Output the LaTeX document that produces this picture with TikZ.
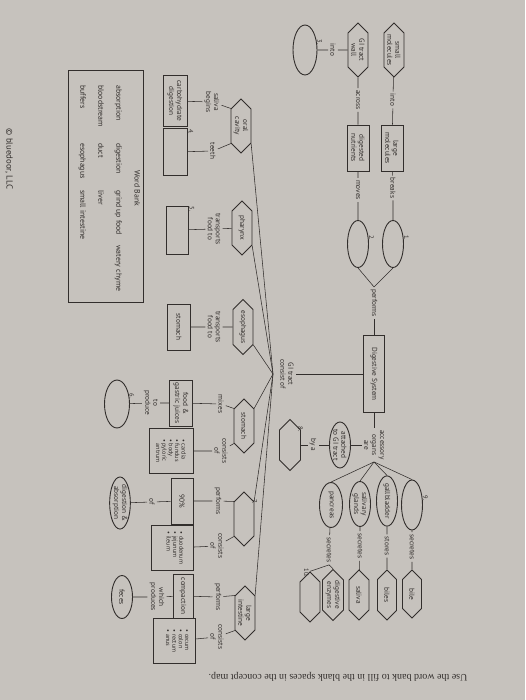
\documentclass[tikz,border=0pt]{standalone}
\usepackage{fontspec}
\setmainfont{PT Sans}
\newfontfamily\headfont{Liberation Serif}
\usetikzlibrary{shapes.geometric,shapes.symbols}

\definecolor{paper}{RGB}{198,194,189}
\definecolor{ink}{RGB}{50,46,44}

\tikzset{
    every node/.style={font=\fontsize{7.3}{8}\selectfont, text=ink},
    concept/.style={draw=ink, line width=0.9pt, align=center, inner sep=1pt},
    hexa/.style={concept, signal, signal to=east and west, minimum width=54pt, minimum height=20pt},
    oval/.style={concept, ellipse, inner sep=0pt, minimum width=47pt, minimum height=21pt},
    box/.style={concept, rectangle, minimum width=46pt, minimum height=22pt},
    listbox/.style={box, align=left, minimum width=45pt, minimum height=42pt, font=\fontsize{6.2}{6.4}\selectfont},
    link/.style={align=center, inner sep=2pt},
    num/.style={font=\fontsize{6.5}{7}\selectfont, inner sep=0.8pt},
    wire/.style={draw=ink, line width=0.55pt}
}

\begin{document}
\begin{tikzpicture}[x=1pt, y=1pt]
    \fill[paper] (0,0) rectangle (525,-700);
    \useasboundingbox (0,0) rectangle (525,-700);
    \begin{scope}[rotate=-90, transform shape]
    % what the system performs
    \node[hexa] (smallmol) at (50,394) {small\\molecules};
    \node[link] (into1) at (100,393) {into};
    \node[box] (largemol) at (148,392) {large\\molecules};
    \node[link] (breaks) at (188,393) {breaks};
    \node[oval, label={[num]135:1.}] (blank1) at (244,393) {};
    \node[hexa] (gitwall) at (50,358) {GI tract\\wall};
    \node[link] (across) at (100,358) {across};
    \node[box] (dignut) at (148,358) {digested\\nutrients};
    \node[link] (moves) at (190,358) {moves};
    \node[oval, label={[num]135:2.}] (blank2) at (244,358) {};
    \node[link] (into2) at (50,333) {into};
    \node[oval, minimum width=50pt, minimum height=24pt, label={[num]135:3.}] (blank3) at (50,305) {};
    \node[link] (performs) at (303,374) {performs};
    \node[box, minimum width=77pt, minimum height=21pt] (digsys) at (374,374) {Digestive System};
    \node[link] (gitract) at (374,287) {GI tract\\consist of};
    \coordinate (hub) at (374,273);

    % GI tract
    \node[hexa] (oral) at (126,241) {oral\\cavity};
    \node[link] (saliva) at (102,212) {saliva\\begins};
    \node[box, minimum width=51pt, minimum height=24pt] (carbo) at (101,175) {carbohydrate\\digestion};
    \node[link] (teeth) at (151,213) {teeth};
    \node[box, minimum width=47pt, minimum height=24pt, label={[num, anchor=south west]north west:4.}] (blank4) at (152,175) {};
    \node[hexa] (pharynx) at (228,242) {pharynx};
    \node[link] (transp1) at (229,214) {transports\\food to};
    \node[box, minimum width=48pt, label={[num, anchor=south west]north west:5.}] (blank5) at (230,177) {};
    \node[hexa] (esoph) at (327,243) {esophagus};
    \node[link] (transp2) at (327,214) {transports\\food to};
    \node[box, minimum height=23pt] (stombox) at (327,179) {stomach};
    \node[hexa] (stomach) at (426,244) {stomach};
    \node[link] (mixes) at (404,221) {mixes};
    \node[box, minimum height=23pt] (juices) at (403,181) {food \&\\gastric juices};
    \node[link] (produce) at (403,151) {to\\produce};
    \node[oval, minimum width=48pt, minimum height=25pt, label={[num]135:6.}] (blank6) at (404,117) {};
    \node[link] (consists1) at (451,221) {consists\\of};
    \node[listbox, minimum height=44pt] (stomparts) at (451,171) {\textbullet\ cardia\\\textbullet\ fundus\\\textbullet\ body\\\textbullet\ pyloric\\\phantom{\textbullet\ }antrum};
    \node[hexa, label={[num]160:7.}] (blank7) at (519,244) {};
    \node[link] (performs2) at (501,218) {performs};
    \node[box] (ninety) at (501,182) {90\%};
    \node[link] (of) at (502,152) {of};
    \node[oval, minimum width=50pt, minimum height=20pt] (digabs) at (503,120) {digestion \&\\absorption};
    \node[link] (consists2) at (546,217) {consists\\of};
    \node[listbox] (smallparts) at (548,172) {\textbullet\ duodenum\\\textbullet\ jejunum\\\textbullet\ ileum\\\mbox{}};
    \node[hexa] (largeint) at (613,245) {large\\intestine};
    \node[link] (performs3) at (597,218) {performs};
    \node[box, minimum width=44pt, minimum height=20pt] (compact) at (596,183) {compaction};
    \node[link] (produces) at (597,157) {which\\produces};
    \node[oval, minimum width=43pt, minimum height=21pt] (feces) at (597,122) {feces};
    \node[link] (consists3) at (637,217) {consists\\of};
    \node[listbox] (largeparts) at (641,174) {\textbullet\ cecum\\\textbullet\ colon\\\textbullet\ rectum\\\textbullet\ anus\\\mbox{}};

    % accessory organs
    \node[link] (accessory) at (445,374) {accessory\\organs\\are};
    \node[oval, minimum width=46pt] (attached) at (445,340) {attached\\to GI tract};
    \node[link] (bya) at (445,313) {by a};
    \node[hexa, minimum width=51pt, minimum height=21pt, label={[num]160:8.}] (blank8) at (445,290) {};
    \node[oval, minimum width=50pt, label={[num]135:9.}] (blank9) at (505,412) {};
    \node[oval] (gallbladder) at (501,387) {gallbladder};
    \node[oval, minimum width=45pt] (salivary) at (504,360) {salivary\\glands};
    \node[oval, minimum width=45pt, minimum height=23pt] (pancreas) at (505,331) {pancreas};
    \node[link] (secretes1) at (547,412) {secretes};
    \node[hexa, minimum width=48pt, minimum height=19pt] (bile) at (594,412) {bile};
    \node[link] (stores) at (546,387) {stores};
    \node[hexa, minimum width=50pt, minimum height=19pt] (biles) at (595,387) {biles};
    \node[link] (secretes2) at (546,360) {secretes};
    \node[hexa, minimum width=50pt] (salivaout) at (595,359) {saliva};
    \node[link] (secretes3) at (550,329) {secretes};
    \node[hexa, minimum width=50pt, minimum height=21pt] (enzymes) at (595,333) {digestive\\enzymes};
    \node[hexa, minimum width=50pt, label={[num]200:10.}] (blank10) at (597,310) {};

    % word bank, credit, instruction
    \node[draw=ink, line width=0.9pt, minimum width=232pt, minimum height=75pt] (wordbank) at (186,105.5) {};
    \node[anchor=base west, inner sep=0pt, font=\fontsize{7.8}{9.6}\selectfont] (wordlist) at (85,134.5) {%
        \setlength{\tabcolsep}{3pt}\renewcommand{\arraystretch}{1.88}%
        \begin{tabular}[t]{@{}p{52pt}p{41pt}p{49pt}l@{}}
        \multicolumn{4}{c}{Word Bank}\\
        absorption & digestion & \mbox{grind up food} & watery chyme\\
        bloodstream & duct & liver & \\
        buffers & esophagus & \mbox{small intestine} &
        \end{tabular}};
    \node[font=\fontsize{8.8}{10}\selectfont] (credit) at (159,9) {\textcopyright\ bluedoor, LLC};
    \node[font=\headfont\fontsize{10}{12}\selectfont, rotate=-90] (heading) at (677,338) {Use the word bank to fill in the blank spaces in the concept map.};

    % connectors
    \draw[wire] (smallmol) -- (into1) -- (largemol) -- (breaks) -- (blank1);
    \draw[wire] (gitwall) -- (across) -- (dignut) -- (moves) -- (blank2);
    \draw[wire] (gitwall) -- (into2) -- (blank3);
    \draw[wire] (blank1.east) -- (performs.west);
    \draw[wire] (blank2.east) -- (performs.west);
    \draw[wire] (performs) -- (digsys);
    \draw[wire] (digsys) -- (gitract);
    \foreach \part in {oral, pharynx, esoph}
        \draw[wire] (hub) -- (\part.30);
    \foreach \part in {stomach, blank7, largeint}
        \draw[wire] (hub) -- (\part.150);
    \draw[wire] (oral.210) -- (saliva) -- (carbo);
    \draw[wire] (oral.330) -- (teeth) -- (blank4);
    \draw[wire] (pharynx) -- (transp1) -- (blank5);
    \draw[wire] (esoph) -- (transp2) -- (stombox);
    \draw[wire] (stomach.210) -- (mixes) -- (juices) -- (produce) -- (blank6);
    \draw[wire] (stomach.330) -- (consists1) -- (stomparts);
    \draw[wire] (blank7.210) -- (performs2) -- (ninety) -- (of) -- (digabs);
    \draw[wire] (blank7.330) -- (consists2) -- (smallparts);
    \draw[wire] (largeint.210) -- (performs3) -- (compact) -- (produces) -- (feces);
    \draw[wire] (largeint.330) -- (consists3) -- (largeparts);
    \draw[wire] (digsys) -- (accessory) -- (attached) -- (bya) -- (blank8);
    \foreach \organ in {blank9, gallbladder, salivary, pancreas}
        \draw[wire] (accessory.east) -- (\organ.west);
    \draw[wire] (blank9) -- (secretes1) -- (bile);
    \draw[wire] (gallbladder) -- (stores) -- (biles);
    \draw[wire] (salivary) -- (secretes2) -- (salivaout);
    \draw[wire] (pancreas) -- (secretes3);
    \draw[wire] (secretes3.east) -- (enzymes.west);
    \draw[wire] (secretes3.east) -- (blank10.west);
    \end{scope}
\end{tikzpicture}
\end{document}
